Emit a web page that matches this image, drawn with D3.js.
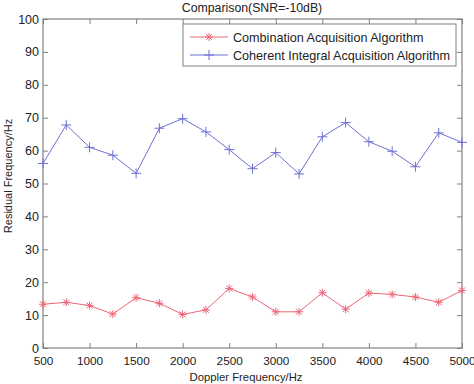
<!DOCTYPE html>
<html>
<head>
<meta charset="utf-8">
<script src="https://cdn.jsdelivr.net/npm/d3@7"></script>
<style>
  body { margin: 0; background: #fff; }
  text { font-family: "Liberation Sans", Arial, sans-serif; fill: #222; }
</style>
</head>
<body>
<div id="chart"></div>
<script>
var width = 474, height = 384;

// doppler frequencies (Hz)
var doppler = [500, 750, 1000, 1250, 1500, 1750, 2000, 2250, 2500, 2750,
               3000, 3250, 3500, 3750, 4000, 4250, 4500, 4750, 5000];
// residual frequency, combination acquisition
var combination = [13.3, 13.9, 12.9, 10.3, 15.3, 13.6, 10.2, 11.6, 18.1, 15.5,
                   11.0, 11.0, 16.8, 11.8, 16.7, 16.3, 15.5, 13.9, 17.5];
// residual frequency, coherent integral acquisition
var coherent = [56.1, 67.8, 61.0, 58.6, 53.1, 66.8, 69.7, 65.7, 60.3, 54.5,
                59.4, 52.9, 64.2, 68.5, 62.7, 59.8, 55.1, 65.4, 62.5];

var xTicks = [500, 1000, 1500, 2000, 2500, 3000, 3500, 4000, 4500, 5000];
var yTicks = [0, 10, 20, 30, 40, 50, 60, 70, 80, 90, 100];
var seriesNames = ["Combination Acquisition Algorithm", "Coherent Integral Acquisition Algorithm"];

var margin = {left: 43, right: 12, top: 19, bottom: 36};
var x = d3.scaleLinear().domain([500, 5000]).range([margin.left, width - margin.right]);
var y = d3.scaleLinear().domain([0, 100]).range([height - margin.bottom, margin.top]);

var svg = d3.select("#chart").append("svg")
    .attr("width", width)
    .attr("height", height);

var axisColor = "#808080";

// box axes with inward ticks
function styleAxis(size) {
  return function(g) {
    g.select(".domain").remove();
    g.selectAll(".tick line").attr("stroke", axisColor);
    g.selectAll(".tick text").attr("font-size", size).attr("fill", "#222")
      .style("font-family", "Liberation Sans, Arial, sans-serif");
  };
}

svg.append("g")
    .attr("transform", "translate(0," + y(0) + ")")
    .call(d3.axisBottom(x).tickValues(xTicks).tickSize(-5).tickPadding(9).tickFormat(d3.format("d")))
    .call(styleAxis(11.8));

svg.append("g")
    .attr("transform", "translate(0," + y(100) + ")")
    .call(d3.axisTop(x).tickValues(xTicks).tickSize(-5).tickFormat(""))
    .call(styleAxis(11.8));

svg.append("g")
    .attr("transform", "translate(" + x(500) + ",0)")
    .call(d3.axisLeft(y).tickValues(yTicks).tickSize(-5).tickPadding(4))
    .call(styleAxis(12.5));

svg.append("g")
    .attr("transform", "translate(" + x(5000) + ",0)")
    .call(d3.axisRight(y).tickValues(yTicks).tickSize(-5).tickFormat(""))
    .call(styleAxis(12));

svg.append("rect")
    .attr("x", x(500)).attr("y", y(100))
    .attr("width", x(5000) - x(500)).attr("height", y(0) - y(100))
    .attr("fill", "none").attr("stroke", axisColor).attr("stroke-width", 1.2);

var redColor = "#ee6677", blueColor = "#6f6fd6";

function drawSeries(values, color, marker) {
  var pts = doppler.map(function(d, i) { return [x(d), y(values[i])]; });
  svg.append("path")
      .datum(pts)
      .attr("fill", "none")
      .attr("stroke", color)
      .attr("stroke-width", 1)
      .attr("d", d3.line());
  pts.forEach(function(p) { marker(p[0], p[1], color); });
}

function plusMarker(cx, cy, color) {
  var s = 5;
  svg.append("path")
      .attr("d", "M" + (cx - s) + "," + cy + "H" + (cx + s) + "M" + cx + "," + (cy - s) + "V" + (cy + s))
      .attr("stroke", color).attr("stroke-width", 1);
}

function starMarker(cx, cy, color) {
  var s = 4, d = 3;
  svg.append("path")
      .attr("d", "M" + (cx - s) + "," + cy + "H" + (cx + s) +
                 "M" + cx + "," + (cy - s) + "V" + (cy + s) +
                 "M" + (cx - d) + "," + (cy - d) + "L" + (cx + d) + "," + (cy + d) +
                 "M" + (cx - d) + "," + (cy + d) + "L" + (cx + d) + "," + (cy - d))
      .attr("stroke", color).attr("stroke-width", 1);
}

drawSeries(combination, redColor, starMarker);
drawSeries(coherent, blueColor, plusMarker);

// legend
var lg = svg.append("g");
lg.append("rect")
    .attr("x", 183).attr("y", 24).attr("width", 273).attr("height", 42)
    .attr("fill", "#fff").attr("stroke", axisColor).attr("stroke-width", 1);

var legendRows = [
  {name: seriesNames[0], color: redColor, marker: starMarker, y: 37},
  {name: seriesNames[1], color: blueColor, marker: plusMarker, y: 55}
];
legendRows.forEach(function(r) {
  lg.append("line")
      .attr("x1", 190).attr("x2", 228).attr("y1", r.y).attr("y2", r.y)
      .attr("stroke", r.color).attr("stroke-width", 1);
  r.marker(209, r.y, r.color);
  lg.append("text")
      .attr("x", 233).attr("y", r.y + 4.5)
      .attr("font-size", 12.6)
      .text(r.name);
});

// titles
svg.append("text")
    .attr("x", 252).attr("y", 12)
    .attr("text-anchor", "middle")
    .attr("font-size", 12.3)
    .text("Comparison(SNR=-10dB)");

svg.append("text")
    .attr("x", 246).attr("y", 381)
    .attr("text-anchor", "middle")
    .attr("font-size", 11.3)
    .text("Doppler Frequency/Hz");

svg.append("text")
    .attr("transform", "translate(12,176) rotate(-90)")
    .attr("text-anchor", "middle")
    .attr("font-size", 11)
    .text("Residual Frequency/Hz");
</script>
</body>
</html>
